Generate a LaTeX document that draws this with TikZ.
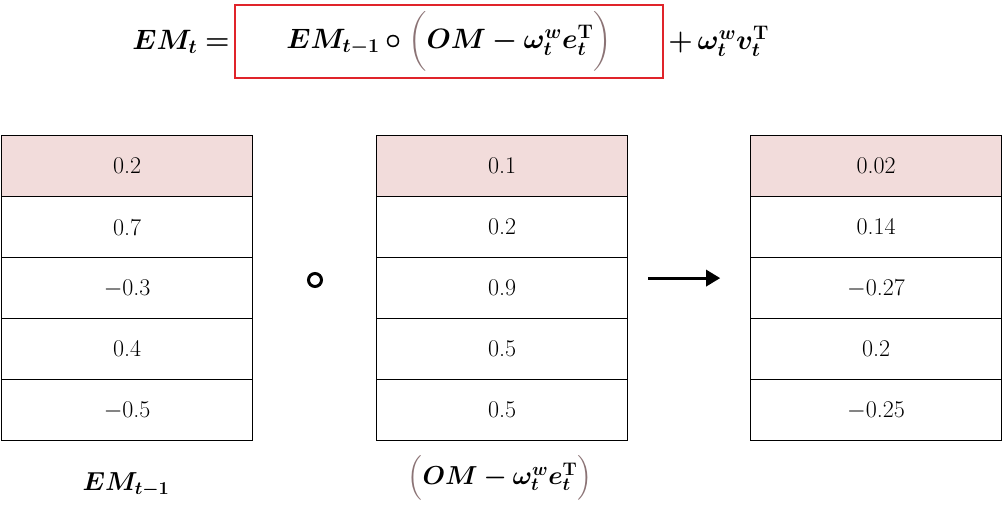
\documentclass[tikz,border=0pt]{standalone}
\usepackage{fix-cm}
\usepackage{amsmath}
\usepackage{bm}
\usetikzlibrary{arrows.meta}
\definecolor{pinkrow}{HTML}{F2DCDB}
\definecolor{redbox}{HTML}{E0242A}
\definecolor{parcol}{HTML}{8B7375}
\tikzset{cell/.style={draw=black,line width=1.2pt,minimum width=251pt,minimum height=61pt,inner sep=0pt,font=\fontsize{24}{28}\selectfont,anchor=north west},
head/.style={cell,fill=pinkrow},
fml/.style={font=\fontsize{28}{32}\selectfont,inner sep=0pt}}
\begin{document}
\begin{tikzpicture}[x=1pt,y=-1pt]
\useasboundingbox (0,0) rectangle (1005,508);
\node[fml,draw=redbox,line width=2.5pt,minimum width=428pt,minimum height=73pt] (f) at (449,41.5) {$\bm{EM_{t-1}\circ \textcolor{parcol}{\Big(}OM-\omega_t^w e_t^{\mathrm{T}}\textcolor{parcol}{\Big)}}$};
\node[fml,anchor=east] (fl) at ([xshift=-4pt]f.west) {$\bm{EM_t =}$};
\node[fml,anchor=west] (fr) at ([xshift=4pt]f.east) {$\bm{+\,\omega_t^w v_t^{\mathrm{T}}}$};
\foreach \c/\x/\a/\b/\cc/\d/\e in {L/1/0.2/0.7/$-$0.3/0.4/$-$0.5, M/376/0.1/0.2/0.9/0.5/0.5, R/750/0.02/0.14/$-$0.27/0.2/$-$0.25}{
 \node[head] (\c1) at (\x,135) {\a};
 \node[cell] (\c2) at (\x,196) {\b};
 \node[cell] (\c3) at (\x,257) {\cc};
 \node[cell] (\c4) at (\x,318) {\d};
 \node[cell] (\c5) at (\x,379) {\e};
}
\node[circle,draw,line width=3pt,minimum size=13pt,inner sep=0pt] (o) at (315,280) {};
\draw[line width=3pt,-{Triangle[length=14pt,width=16pt]}] (M3.east)++(20,-10) coordinate (a1) -- ++(72,0) coordinate (a2);
\node (lL) at (126,485) {\fontsize{26}{30}\selectfont $\bm{EM_{t-1}}$};
\node (lM) at (500,478) {\fontsize{26}{30}\selectfont $\bm{\textcolor{parcol}{\Big(}OM-\omega_t^w e_t^{\mathrm{T}}\textcolor{parcol}{\Big)}}$};
\end{tikzpicture}
\end{document}
